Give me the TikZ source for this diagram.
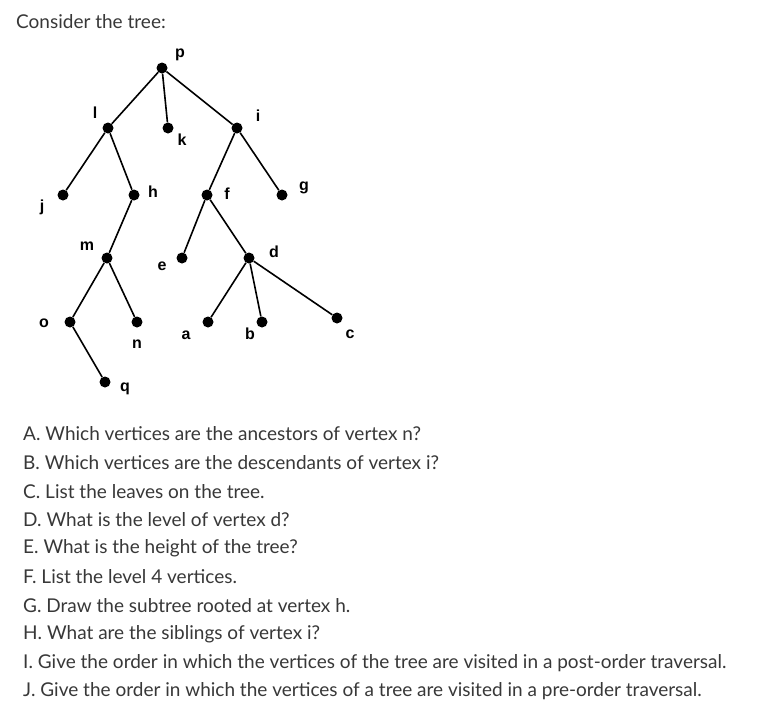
\documentclass[tikz,border=0pt]{standalone}
\usepackage{fontspec}
\setmainfont{Lato}
\newfontfamily\labfont{Liberation Sans Bold}
\begin{document}
\begin{tikzpicture}[x=1pt,y=-1pt,
  v/.style={circle,fill=black,inner sep=0pt,minimum size=11pt},
  lab/.style={font=\labfont\fontsize{16}{18}\selectfont,text=black},
  q/.style={anchor=west,font=\fontsize{19}{22}\selectfont,text=black!78,inner sep=0pt},
  e/.style={line width=1.6pt}]
\useasboundingbox[fill=white] (0,0) rectangle (784,723);
\node[q] at (16,22) {Consider the tree:};
\foreach \n/\x/\y in {p/162/68,l/108/128,k/168/128,i/237/128,j/63/195,h/134/195,f/207/195,g/282/195,m/107/258,e/182/258,d/249/258,o/70/322,n/137/322,a/208/322,b/262/322,c/337/318,q/105/382}
  \node[v] (\n) at (\x,\y) {};
\foreach \n/\x/\y in {p/180/55,l/95/113,k/182/140,i/258/116,j/42/207,h/153/192,f/227/194,g/304/188,m/87/246,e/162/266,d/274/252,o/44/323,n/137/344,a/186/335,b/250/334,c/350/334,q/125/389}
  \node[lab] (t\n) at (\x,\y) {\n};
\foreach \a/\b in {p/l,p/k,p/i,l/j,l/h,h/m,m/o,m/n,o/q,i/f,i/g,f/e,f/d,d/a,d/b,d/c}
  \draw[e] (\a) -- (\b);
\foreach \t [count=\k from 0] in {A. Which vertices are the ancestors of vertex n?,
 B. Which vertices are the descendants of vertex i?,
 C. List the leaves on the tree.,
 D. What is the level of vertex d?,
 E. What is the height of the tree?,
 F. List the level 4 vertices.,
 G. Draw the subtree rooted at vertex h.,
 H. What are the siblings of vertex i?,
 I. Give the order in which the vertices of the tree are visited in a post-order traversal.,
 J. Give the order in which the vertices of a tree are visited in a pre-order traversal.}
  \node[q] (Q\k) at (23,434+28.6*\k) {\t};
\end{tikzpicture}
\end{document}
